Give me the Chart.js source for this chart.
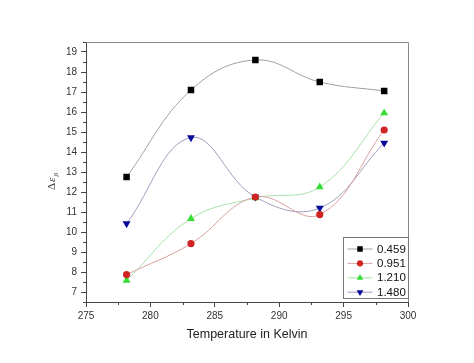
<!DOCTYPE html>
<html>
<head>
<meta charset="utf-8">
<script src="https://cdn.jsdelivr.net/npm/chart.js@4"></script>
<style>
  html, body { margin: 0; padding: 0; background: #fff; }
  canvas { display: block; }
</style>
</head>
<body>
<canvas id="chart" width="474" height="363"></canvas>
<script>
// data
const temps = [278.15, 283.15, 288.15, 293.15, 298.15];
const s0459 = [12.75, 17.1, 18.6, 17.5, 17.05];
const s0951 = [7.87, 9.42, 11.75, 10.87, 15.1];
const s1210 = [7.58, 10.67, 11.7, 12.25, 15.95];
const s1480 = [10.42, 14.72, 11.75, 11.2, 14.45];
const seriesLabels = ['0.459', '0.951', '1.210', '1.480'];
const xTicks = [275, 280, 285, 290, 295, 300];
const yTicks = [7, 8, 9, 10, 11, 12, 13, 14, 15, 16, 17, 18, 19];

const styles = [
  { color: '#000000', line: '#a0a0a0', shape: 'rect', r: 4.6, rot: 0 },
  { color: '#d02424', line: '#d9a0a0', shape: 'circle', r: 3.6, rot: 0 },
  { color: '#33dd33', line: '#a8e0a8', shape: 'triangle', r: 4.6, rot: 0 },
  { color: '#0a0a9a', line: '#a39cbc', shape: 'triangle', r: 4.6, rot: 180 }
];

function toPoints(vals) {
  return temps.map((t, i) => ({ x: t, y: vals[i] }));
}

const allSeries = [s0459, s0951, s1210, s1480];
const datasets = allSeries.map((vals, i) => ({
  label: seriesLabels[i],
  data: toPoints(vals),
  showLine: true,
  tension: 0.4,
  borderColor: styles[i].line,
  borderWidth: 1,
  pointStyle: styles[i].shape,
  pointRotation: styles[i].rot,
  pointRadius: styles[i].r,
  pointBackgroundColor: styles[i].color,
  pointBorderColor: styles[i].color,
  pointBorderWidth: 0
}));

// minor ticks, frame, y title and origin-style legend
const extras = {
  id: 'extras',
  afterDraw(chart) {
    const ctx = chart.ctx;
    const a = chart.chartArea;
    const xs = chart.scales.x, ys = chart.scales.y;
    ctx.save();
    ctx.strokeStyle = '#444';
    ctx.lineWidth = 1;
    // minor ticks
    ctx.beginPath();
    for (let i = 0; i < xTicks.length - 1; i++) {
      const px = Math.round(xs.getPixelForValue((xTicks[i] + xTicks[i + 1]) / 2)) + 0.5;
      ctx.moveTo(px, a.bottom);
      ctx.lineTo(px, a.bottom + 3);
    }
    const yMinors = [6.5].concat(yTicks.map(v => v + 0.5));
    yMinors.forEach(v => {
      const py = Math.round(ys.getPixelForValue(v)) + 0.5;
      ctx.moveTo(a.left, py);
      ctx.lineTo(a.left - 3, py);
    });
    ctx.stroke();
    // top and right frame
    ctx.strokeStyle = '#888';
    ctx.beginPath();
    ctx.moveTo(a.left, Math.round(a.top) + 0.5);
    ctx.lineTo(Math.round(a.right) + 0.5, Math.round(a.top) + 0.5);
    ctx.lineTo(Math.round(a.right) + 0.5, a.bottom);
    ctx.stroke();

    // y title  Δε_β
    ctx.translate(52, (a.top + a.bottom) / 2 + 18);
    ctx.rotate(-Math.PI / 2);
    ctx.fillStyle = '#333';
    ctx.textBaseline = 'middle';
    ctx.textAlign = 'left';
    ctx.font = '11px "Liberation Serif"';
    ctx.fillText('\u0394', 0, 0);
    const w1 = ctx.measureText('\u0394').width;
    ctx.font = 'italic 11px "Liberation Serif"';
    ctx.fillText('\u03b5', w1 + 1, 0);
    const w2 = ctx.measureText('\u03b5').width;
    ctx.font = 'italic 7px "Liberation Serif"';
    ctx.fillText('\u03b2', w1 + w2 + 2, 4);
    ctx.setTransform(1, 0, 0, 1, 0, 0);

    // legend
    const bw = 65, bh = 61;
    const bx = Math.round(a.right) - bw + 0.5;
    const by = Math.round(a.bottom) - 4 - bh + 0.5;
    ctx.fillStyle = '#fff';
    ctx.fillRect(bx, by, bw, bh);
    ctx.strokeStyle = '#777';
    ctx.strokeRect(bx, by, bw, bh);
    ctx.font = '11.5px "Liberation Sans", Arial';
    ctx.textAlign = 'left';
    ctx.textBaseline = 'middle';
    seriesLabels.forEach((lab, i) => {
      const cy = by + 11.5 + i * 14.4;
      const st = styles[i];
      ctx.strokeStyle = st.line;
      ctx.beginPath();
      ctx.moveTo(bx + 4, cy);
      ctx.lineTo(bx + 29, cy);
      ctx.stroke();
      ctx.fillStyle = st.color;
      ctx.strokeStyle = st.color;
      Chart.helpers.drawPoint(ctx, { pointStyle: st.shape, radius: st.r * 0.85, rotation: st.rot, borderWidth: 0 }, bx + 16.5, cy);
      ctx.fillStyle = '#111';
      ctx.fillText(lab, bx + 33.5, cy + 0.5);
    });
    ctx.restore();
  }
};

new Chart(document.getElementById('chart'), {
  type: 'scatter',
  data: { datasets: datasets },
  options: {
    responsive: false,
    animation: false,
    layout: { padding: { left: 36, right: 66, top: 42, bottom: 19 } },
    plugins: {
      legend: { display: false },
      tooltip: { enabled: false }
    },
    scales: {
      x: {
        type: 'linear',
        min: 275,
        max: 300,
        afterBuildTicks: s => { s.ticks = xTicks.map(v => ({ value: v })); },
        afterFit: s => { s.height = 42; },
        grid: { drawOnChartArea: false, tickLength: 5, color: '#444' },
        border: { color: '#444' },
        ticks: { color: '#333', padding: 3, font: { family: '"Liberation Sans", Arial', size: 10 }, maxRotation: 0 },
        title: {
          display: true,
          text: 'Temperature in Kelvin',
          color: '#222',
          font: { family: '"Liberation Sans", Arial', size: 12.5 },
          padding: { top: 2, bottom: 2 }
        }
      },
      y: {
        type: 'linear',
        min: 6.5,
        max: 19.5,
        afterBuildTicks: s => { s.ticks = yTicks.map(v => ({ value: v })); },
        afterFit: s => { s.width = 50; },
        grid: { drawOnChartArea: false, tickLength: 5, color: '#444' },
        border: { color: '#444' },
        ticks: { color: '#333', padding: 4, font: { family: '"Liberation Sans", Arial', size: 10 } }
      }
    }
  },
  plugins: [extras]
});
</script>
</body>
</html>
